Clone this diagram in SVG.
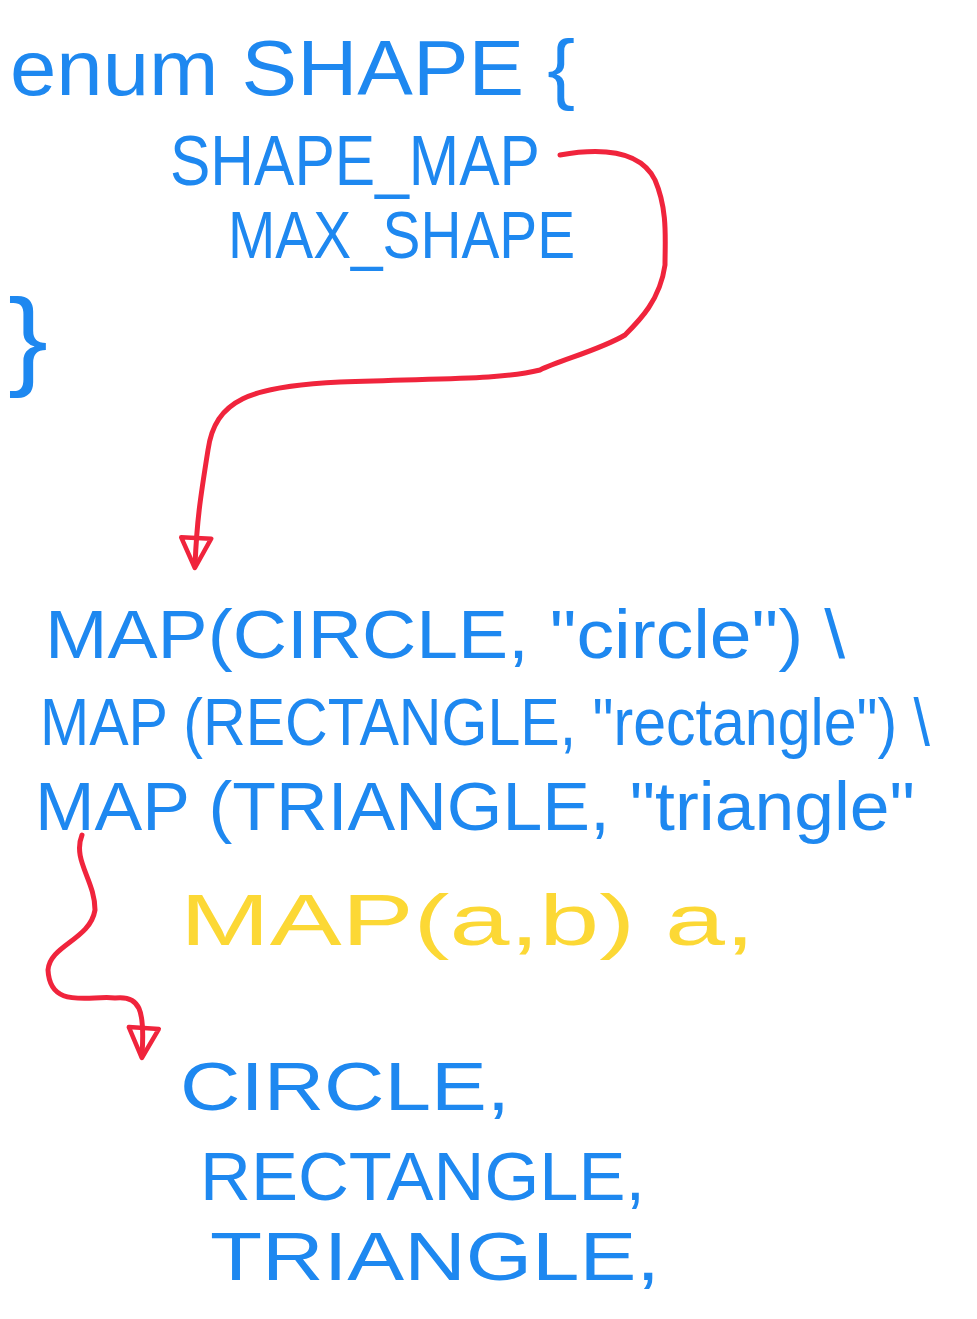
<svg xmlns="http://www.w3.org/2000/svg" width="977" height="1319" viewBox="0 0 977 1319">
<style>
.b{fill:#1e88f0;font-family:"Liberation Sans",sans-serif;font-weight:normal}
.y{fill:#fcd835;font-family:"Liberation Sans",sans-serif}
.c{fill:none;stroke:#f0243c;stroke-width:5;stroke-linecap:round;stroke-linejoin:round}
</style>
<defs>
<marker id="a" viewBox="0 0 12 12" refX="10" refY="6" markerWidth="36" markerHeight="36" markerUnits="userSpaceOnUse" orient="auto">
<path d="M1,1 L1,11 L11,6 Z" fill="none" stroke="#f0243c" stroke-width="1.5" stroke-linejoin="round"/>
</marker>
</defs>
<g id="enum"><text class="b" x="10" y="95" font-size="78" textLength="565" lengthAdjust="spacingAndGlyphs">enum SHAPE {</text></g>
<g id="shapemap"><text class="b" x="170" y="185" font-size="70" textLength="370" lengthAdjust="spacingAndGlyphs">SHAPE_MAP</text></g>
<g id="maxshape"><text class="b" x="228" y="258" font-size="66" textLength="347" lengthAdjust="spacingAndGlyphs">MAX_SHAPE</text></g>
<g id="close"><text class="b" x="8" y="375" font-size="110" textLength="40" lengthAdjust="spacingAndGlyphs">}</text></g>
<g id="map1"><text class="b" x="45" y="658" font-size="68" textLength="800" lengthAdjust="spacingAndGlyphs">MAP(CIRCLE, "circle") \</text></g>
<g id="map2"><text class="b" x="40" y="745" font-size="66" textLength="890" lengthAdjust="spacingAndGlyphs">MAP (RECTANGLE, "rectangle") \</text></g>
<g id="map3"><text class="b" x="35" y="830" font-size="68" textLength="880" lengthAdjust="spacingAndGlyphs">MAP (TRIANGLE, "triangle"</text></g>
<g id="macro"><text class="y" x="180" y="945" font-size="72" textLength="575" lengthAdjust="spacingAndGlyphs">MAP(a,b) a,</text></g>
<g id="out1"><text class="b" x="180" y="1110" font-size="68" textLength="330" lengthAdjust="spacingAndGlyphs">CIRCLE,</text></g>
<g id="out2"><text class="b" x="200" y="1200" font-size="68" textLength="445" lengthAdjust="spacingAndGlyphs">RECTANGLE,</text></g>
<g id="out3"><text class="b" x="210" y="1280" font-size="68" textLength="450" lengthAdjust="spacingAndGlyphs">TRIANGLE,</text></g>
<g id="connectors">
<path class="c" marker-end="url(#a)" d="M560,155 C600,148 640,150 655,180 C668,210 665,240 665,265 C660,300 640,320 625,335 C600,350 560,360 540,370 C500,380 440,378 340,382 C250,386 215,400 208,450 C200,500 197,520 195,565"/>
<path class="c" marker-end="url(#a)" d="M82,835 C72,860 95,880 95,910 C90,940 50,945 48,970 C50,1010 90,995 115,998 C140,995 145,1010 142,1055"/>
</g>
</svg>
